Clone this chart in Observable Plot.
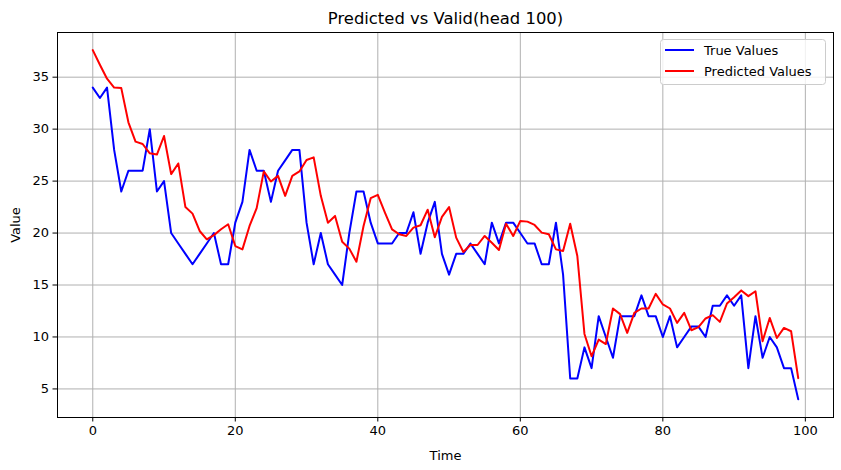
<!DOCTYPE html>
<html>
<head>
<meta charset="utf-8">
<script src="https://cdn.jsdelivr.net/npm/d3@7"></script>
<script src="https://cdn.jsdelivr.net/npm/@observablehq/plot@0.6"></script>
<style>
  html, body { margin: 0; padding: 0; background: #fff; }
  #chart { width: 841px; height: 470px; }
</style>
</head>
<body>
<div id="chart"></div>
<script>
const titleText = "Predicted vs Valid(head 100)";
const xLabel = "Time";
const yLabel = "Value";
const seriesNames = ["True Values", "Predicted Values"];
const seriesColors = ["#0000ff", "#ff0000"];
const xTicks = [0, 20, 40, 60, 80, 100];
const yTicks = [5, 10, 15, 20, 25, 30, 35];

const trueValues = [
  34, 33, 34, 28, 24, 26, 26, 26, 30, 24,
  25, 20, 19, 18, 17, 18, 19, 20, 17, 17,
  21, 23, 28, 26, 26, 23, 26, 27, 28, 28,
  21, 17, 20, 17, 16, 15, 20, 24, 24, 21,
  19, 19, 19, 20, 20, 22, 18, 21, 23, 18,
  16, 18, 18, 19, 18, 17, 21, 19, 21, 21,
  20, 19, 19, 17, 17, 21, 16, 6, 6, 9,
  7, 12, 10, 8, 12, 12, 12, 14, 12, 12,
  10, 12, 9, 10, 11, 11, 10, 13, 13, 14,
  13, 14, 7, 12, 8, 10, 9, 7, 7, 4
];

const predictedValues = [
  37.6, 36.2, 34.85, 34.0, 33.95, 30.66, 28.8, 28.57, 27.67, 27.55,
  29.34, 25.67, 26.7, 22.5, 21.87, 20.2, 19.4, 19.8, 20.37, 20.85,
  18.75, 18.43, 20.68, 22.4, 25.93, 24.96, 25.5, 23.58, 25.5, 25.93,
  27.03, 27.28, 23.58, 21.0, 21.65, 19.17, 18.5, 17.24, 20.68, 23.36,
  23.68, 21.97, 20.36, 19.88, 19.72, 20.52, 20.75, 22.25, 19.6, 21.55,
  22.5, 19.56, 18.18, 18.85, 18.85, 19.72, 19.07, 18.37, 20.9, 19.72,
  21.17, 21.1, 20.78, 20.04, 19.88, 18.43, 18.27, 20.9, 17.79, 10.29,
  8.14, 9.75, 9.32, 12.74, 12.2, 10.39, 12.32, 12.74, 12.74, 14.15,
  13.13, 12.74, 11.36, 12.32, 10.65, 10.94, 11.78, 12.1, 11.45, 13.22,
  13.83, 14.48, 13.93, 14.4, 9.58, 11.83, 9.9, 10.87, 10.55, 6.04
];

const rows = [];
trueValues.forEach((v, i) => rows.push({t: i, value: v, series: seriesNames[0]}));
predictedValues.forEach((v, i) => rows.push({t: i, value: v, series: seriesNames[1]}));

const font = "'DejaVu Sans', sans-serif";

const plot = Plot.plot({
  width: 841,
  height: 470,
  marginLeft: 57,
  marginRight: 8,
  marginTop: 32,
  marginBottom: 53,
  style: {fontFamily: font, fontSize: "13px", color: "#000", background: "#fff", overflow: "visible"},
  x: {domain: [-4.95, 103.95], ticks: xTicks, label: xLabel, labelAnchor: "center", labelArrow: "none", labelOffset: 42, tickSize: 4.5, tickPadding: 4},
  y: {domain: [2.25, 39.3], ticks: yTicks, label: yLabel, labelAnchor: "center", labelArrow: "none", labelOffset: 47, tickSize: 4.5, tickPadding: 4},
  color: {domain: seriesNames, range: seriesColors},
  marks: [
    Plot.gridX(xTicks, {stroke: "#b0b0b0", strokeOpacity: 1, strokeWidth: 1}),
    Plot.gridY(yTicks, {stroke: "#b0b0b0", strokeOpacity: 1, strokeWidth: 1}),
    Plot.line(rows, {x: "t", y: "value", z: "series", stroke: "series", strokeWidth: 2}),
    Plot.frame({stroke: "#000", strokeWidth: 1}),
    Plot.text([titleText], {frameAnchor: "top", lineAnchor: "middle", dy: -14, fontSize: 16.4, fill: "#000"})
  ]
});

document.getElementById("chart").appendChild(plot);

// Legend (matplotlib-style box, upper right)
const svg = d3.select(plot);
const lg = svg.append("g").attr("font-family", font).attr("font-size", 13).attr("text-anchor", "start");
lg.append("rect")
  .attr("x", 660.5).attr("y", 39.5).attr("width", 165).attr("height", 45)
  .attr("rx", 3).attr("fill", "#fff").attr("fill-opacity", 0.8)
  .attr("stroke", "#cccccc").attr("stroke-width", 1);
seriesNames.forEach((name, k) => {
  const yy = 50 + k * 21;
  lg.append("line").attr("x1", 665).attr("x2", 694).attr("y1", yy).attr("y2", yy)
    .attr("stroke", seriesColors[k]).attr("stroke-width", 2);
  lg.append("text").attr("x", 704).attr("y", yy).attr("dy", "0.35em")
    .attr("text-anchor", "start").attr("fill", "#000").text(name);
});
</script>
</body>
</html>
